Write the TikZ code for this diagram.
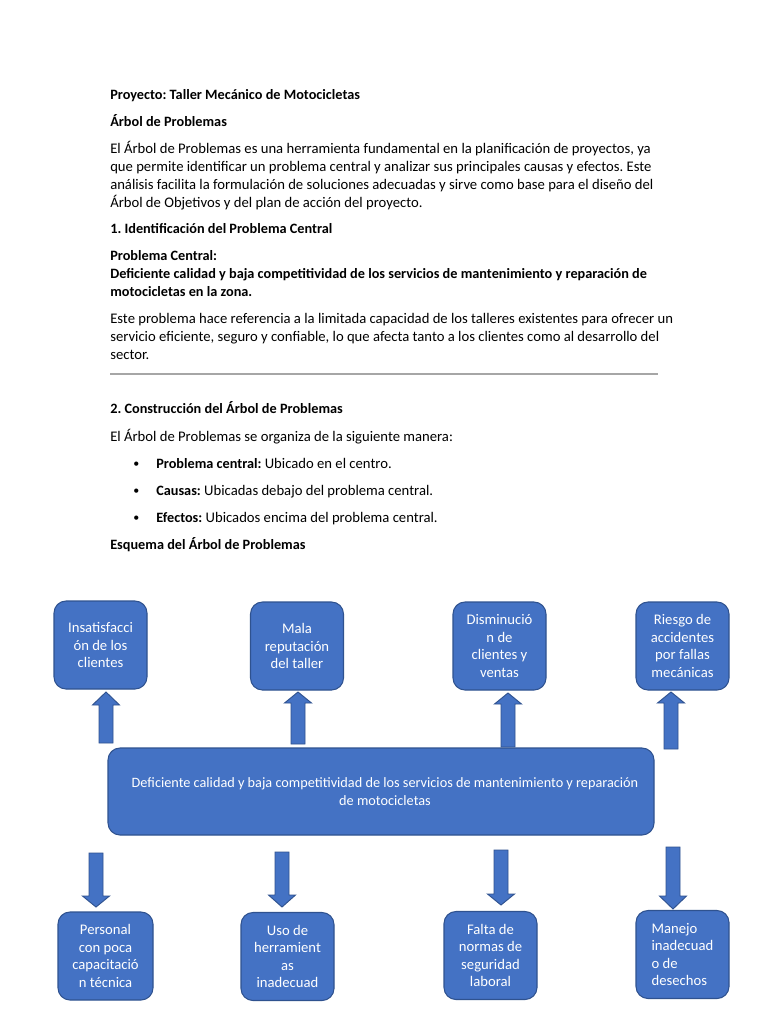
\documentclass[tikz,border=0pt]{standalone}
\usepackage{fontspec}
\setmainfont{Carlito}
\frenchspacing
\definecolor{boxfill}{HTML}{4472C4}
\definecolor{boxline}{HTML}{2F528F}
\definecolor{rulegray}{HTML}{A6A6A6}
\newcommand\blockarrow[4]{%
  \draw[arrowst] ({#1-7},#2) -- ({#1-7},#3) -- ({#1-13.5},#3) -- (#1,#4)
    -- ({#1+13.5},#3) -- ({#1+7},#3) -- ({#1+7},#2) -- cycle;}
\begin{document}
\begin{tikzpicture}[x=0.75pt,y=-0.75pt,
  txt/.style={anchor=base west, inner sep=0, font=\fontsize{11}{13.5}\selectfont\frenchspacing, text=black},
  btxt/.style={txt, font=\fontsize{10.7}{13.5}\selectfont\bfseries\frenchspacing},
  box/.style={draw=boxline, fill=boxfill, rounded corners=9pt, text=white, align=center,
    font=\fontsize{11}{13.2}\selectfont, inner sep=0, line width=0.8pt,
    minimum width=69.75pt, minimum height=66pt},
  arrowst/.style={draw=boxline, fill=boxfill, line width=0.7pt, line join=miter}]
\useasboundingbox (0,0) rectangle (768,1024);
\fill[white] (0,0) rectangle (768,1024);

% header texts
\node[btxt] (t1) at (110,99) {Proyecto: Taller Mecánico de Motocicletas};
\node[btxt] (t2) at (110,126) {Árbol de Problemas};
\node[txt] (p1a) at (110,153) {El Árbol de Problemas es una herramienta fundamental en la planificación de proyectos, ya};
\node[txt] (p1b) at (110,171) {que permite identificar un problema central y analizar sus principales causas y efectos. Este};
\node[txt] (p1c) at (110,189) {análisis facilita la formulación de soluciones adecuadas y sirve como base para el diseño del};
\node[txt] (p1d) at (110,207) {Árbol de Objetivos y del plan de acción del proyecto.};
\node[btxt] (h1) at (110,233) {1. Identificación del Problema Central};
\node[btxt] (pc1) at (110,260) {Problema Central:};
\node[btxt] (pc2) at (110,278) {Deficiente calidad y baja competitividad de los servicios de mantenimiento y reparación de};
\node[btxt] (pc3) at (110,296) {motocicletas en la zona.};
\node[txt] (p2a) at (110,323) {Este problema hace referencia a la limitada capacidad de los talleres existentes para ofrecer un};
\node[txt] (p2b) at (110,341) {servicio eficiente, seguro y confiable, lo que afecta tanto a los clientes como al desarrollo del};
\node[txt] (p2c) at (110,359) {sector.};
\coordinate (rl) at (110,374);
\coordinate (rr) at (658,374);
\draw[rulegray, line width=1.5pt] (rl) -- (rr);
\node[btxt] (h2) at (110,413) {2. Construcción del Árbol de Problemas};
\node[txt] (p3) at (110,441) {El Árbol de Problemas se organiza de la siguiente manera:};
\node[txt, font=\fontsize{9}{11}\selectfont] (bu1) at (133,467) {•};
\node[txt] (l1) at (156,468) {{\fontsize{10.7}{13.5}\selectfont\bfseries Problema central:} Ubicado en el centro.};
\node[txt, font=\fontsize{9}{11}\selectfont] (bu2) at (133,494) {•};
\node[txt] (l2) at (156,495) {{\fontsize{10.7}{13.5}\selectfont\bfseries Causas:} Ubicadas debajo del problema central.};
\node[txt, font=\fontsize{9}{11}\selectfont] (bu3) at (133,521) {•};
\node[txt] (l3) at (156,522) {{\fontsize{10.7}{13.5}\selectfont\bfseries Efectos:} Ubicados encima del problema central.};
\node[btxt] (h3) at (110,549) {Esquema del Árbol de Problemas};

% effects (top)
\node[box] (e1) at (100.5,645) {Insatisfacci\\ón de los\\clientes};
\node[box] (e2) at (297,646) {Mala\\reputación\\del taller};
\node[box] (e3) at (499.5,646) {Disminució\\n de\\clientes y\\ventas};
\node[box] (e4) at (682.5,646) {Riesgo de\\accidentes\\por fallas\\mecánicas};

% central problem
\node[box, minimum width=409.5pt, minimum height=65.25pt, font=\fontsize{10.7}{13.5}\selectfont] (c) at (381,791.5)
  {\hspace*{6pt}Deficiente calidad y baja competitividad de los servicios de mantenimiento y reparación\\\hspace*{6pt}de motocicletas};

% causes (bottom)
\node[box, minimum width=71.25pt] (b1) at (105.5,956) {Personal\\con poca\\capacitació\\n técnica};
\node[box] (b2) at (287.5,956.5) {Uso de\\herramient\\as\\inadecuad};
\node[box] (b3) at (490.5,955.5) {Falta de\\normas de\\seguridad\\laboral};
\node[box, align=left] (b4) at (682.5,954.5) {Manejo\\inadecuad\\o de\\desechos};

% block arrows: up (effects)
\blockarrow{106}{743}{705}{692}
\blockarrow{298}{744}{703}{692}
\blockarrow{508}{747}{704}{693}
\blockarrow{671}{749}{703}{692}
% block arrows: down (causes)
\blockarrow{96}{853}{896}{907}
\blockarrow{282}{852}{895}{907}
\blockarrow{501}{850}{894}{905}
\blockarrow{673}{847}{896}{909}
\end{tikzpicture}
\end{document}
